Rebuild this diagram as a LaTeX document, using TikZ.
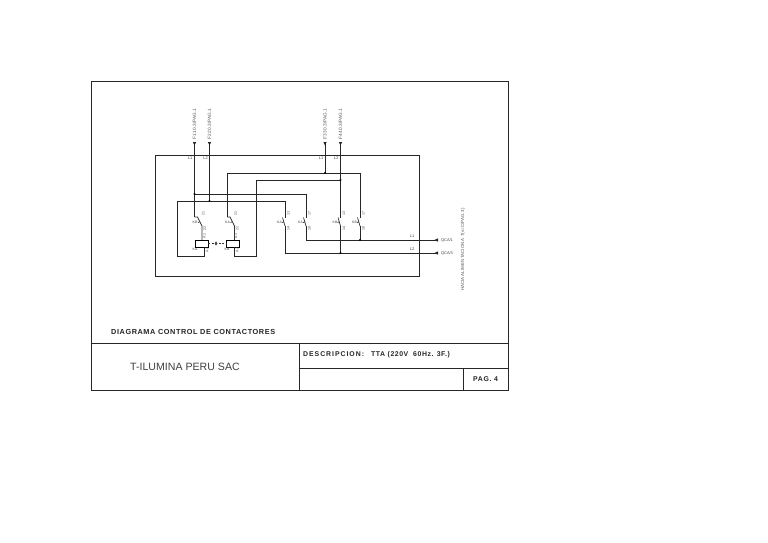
\documentclass[tikz,border=0pt]{standalone}
\usepackage{fontspec}
\setmainfont{Liberation Sans}
\usetikzlibrary{arrows.meta,shapes.geometric}
\tikzset{
  x=1pt,y=-1pt,
  frame/.style={line width=0.9pt,draw=black!85},
  wire/.style={line width=0.9pt,draw=black!85},
  dotm/.style={circle,fill=black,inner sep=0pt,minimum size=2.4pt},
  tiny/.style={font=\fontsize{3.6}{4}\selectfont,text=black!70,inner sep=0pt},
  lab/.style={font=\fontsize{3.4}{5}\selectfont,text=black!75,inner sep=0pt},
  lbl/.style={font=\fontsize{3.9}{5}\selectfont,text=black!75,inner sep=0pt},
  vlab/.style={rotate=90,anchor=west,font=\fontsize{4.7}{5}\selectfont,text=black!65,inner sep=0pt},
  title/.style={anchor=base west,inner sep=0pt,text=black!85},
  coil/.style={draw=black,line width=0.9pt,fill=white,minimum width=13pt,minimum height=7pt,inner sep=0pt},
  term/.style={-{Latex[reversed,length=4pt,width=3.5pt]},line width=0.9pt,draw=black!85},
  blade/.style={line width=0.7pt,draw=black!80}
}
\begin{document}
\begin{tikzpicture}
\useasboundingbox (0,0) rectangle (768,543);
\fill[white] (0,0) rectangle (768,543);
% sheet frame
\draw[frame] (91.5,81.5) rectangle (508.5,390);
\draw[frame] (91.5,343.5) -- (508.5,343.5);
\draw[frame] (299.5,343.5) -- (299.5,390);
\draw[frame] (299.5,368) -- (508.5,368);
\draw[frame] (463,368) -- (463,390);
\node[title,font=\bfseries\fontsize{7.3}{8}\selectfont\addfontfeature{LetterSpace=8}] (t1) at (111,334) {DIAGRAMA CONTROL DE CONTACTORES};
\node[title,font=\fontsize{10.6}{12}\selectfont,text=black!75] (t2) at (130,370.5) {T-ILUMINA PERU SAC};
\node[title,font=\bfseries\fontsize{6.9}{8}\selectfont\addfontfeature{LetterSpace=14}] (t3) at (303,356.5) {DESCRIPCION:};
\node[title,font=\bfseries\fontsize{6.9}{8}\selectfont\addfontfeature{LetterSpace=8}] (t4) at (371,356.5) {TTA (220V\ \ 60Hz. 3F.)};
\node[title,font=\bfseries\fontsize{6.9}{8}\selectfont\addfontfeature{LetterSpace=10}] (t5) at (473,381) {PAG. 4};
% inner box
\draw[frame] (155,155) rectangle (419,276);
% coordinates
\coordinate (a1t) at (194.5,142); \coordinate (a2t) at (209.5,142);
\coordinate (b1t) at (325,142);   \coordinate (b2t) at (340.5,142);
\coordinate (d1) at (194.5,194); \coordinate (d2) at (209.5,201);
\coordinate (d3) at (325,173);   \coordinate (d4) at (340.5,180);
\coordinate (d5) at (360,240);   \coordinate (d6) at (340.5,253);
\coordinate (e1) at (438,240);   \coordinate (e2) at (438,253);
% supply terminals
\draw[term] (d2) -- (a2t);
\draw[term] (d3) -- (b1t);
\draw[term] (340.5,218) -- (b2t);
\draw[term] (194.5,217) -- (a1t);
% horizontal buses
\draw[wire] (d1) -- (306,194) -- (306,218);
\draw[wire] (177,256.5) -- (177,201) -- (285,201) -- (285,218);
\draw[wire] (227,217) -- (227,173) -- (360,173) -- (360,218);
\draw[wire] (234,256.5) -- (256.5,256.5) -- (256.5,180) -- (d4);
\draw[wire] (177,256.5) -- (204,256.5);
% outputs
\draw[term] (306,226) -- (306,240) -- (e1);
\draw[term] (285,226) -- (285,253) -- (e2);
\draw[wire] (360,226) -- (d5);
\draw[wire] (d6) -- (340.5,226);
% normally open contacts
\foreach \x/\n/\k/\p/\q in {285/s3/KA/13/14,306/s4/KA/17/18,340.5/s5/KB/13/14,360/s6/KB/17/18}{
  \draw[blade] (\x-2.5,217.5) -- (\x,226);
  \draw[blade] (\x-3,222.5) -- ++(2,-0.7);
  \node[lab] (\n k) at (\x-5.5,222.5) {\k};
  \node[tiny,rotate=90] (\n a) at (\x+3.5,213) {\p};
  \node[tiny,rotate=90] (\n b) at (\x+3.5,228) {\q};
}
% normally closed contacts
\foreach \x/\n/\k/\p/\q in {194.5/s1/KB/21/22,227/s2/KA/21/22}{
  \draw[blade] (\x,217) -- ++(3,0) -- ++(4.5,9) -- ++(0,14);
  \draw[blade] (\x+3.5,222.5) -- ++(1.5,-0.6);
  \node[lab] (\n k) at (\x+0.5,222) {\k};
  \node[tiny,rotate=90] (\n a) at (\x+8.5,213) {\p};
  \node[tiny,rotate=90] (\n b) at (\x+10,228) {\q};
}
% coils
\node[coil] (ka) at (201.5,243.5) {};
\node[coil] (kb) at (233,243.5) {};
\draw[wire] (204,247) -- (204,256.5);
\draw[wire] (234,247) -- (234,256.5);
\draw[line width=0.8pt,dash pattern=on 2pt off 1.5pt,black!80] (ka.east) -- (kb.west);
\node[diamond,fill=black!70,inner sep=0pt,minimum width=3pt,minimum height=4.5pt] (il) at (216,243.5) {};
\node[tiny,rotate=90] (c1) at (204.5,236) {A1};
\node[tiny,rotate=90] (c2) at (236,236) {A1};
\node[tiny,rotate=90] (c3) at (207,250) {A2};
\node[tiny,rotate=90] (c4) at (237,250) {A2};
\node[lab] (c5) at (195,249) {KA};
\node[lab] (c6) at (227,249) {KB};
% junction dots
\foreach \c in {d1,d2,d3,d4,d5,d6}{\node[dotm] at (\c) {};}
% labels
\node[lbl] (l1) at (190,158.5) {L1};
\node[lbl] (l2) at (205.5,158.5) {L2};
\node[lbl] (l3) at (321,158.5) {L1};
\node[lbl] (l4) at (336,158.5) {L2};
\node[lbl] (l5) at (412,236) {L1};
\node[lbl] (l6) at (412,249) {L2};
\node[lbl,anchor=west] (q1) at (441,240) {QCA/1};
\node[lbl,anchor=west] (q2) at (441,253) {QCA/3};
\node[vlab] (v1) at (194.5,140) {F1 10.3/PAG.1};
\node[vlab] (v2) at (209.5,140) {F2 20.3/PAG.1};
\node[vlab] (v3) at (325,140) {F3 30.3/PAG.1};
\node[vlab] (v4) at (340.5,140) {F4 40.3/PAG.1};
\node[rotate=90,font=\fontsize{4.4}{5}\selectfont,text=black!65,inner sep=0pt] (v5) at (463,249.5) {HACIA ALIMEN TACION A T(v=C/PAG. 3)};
\end{tikzpicture}
\end{document}
